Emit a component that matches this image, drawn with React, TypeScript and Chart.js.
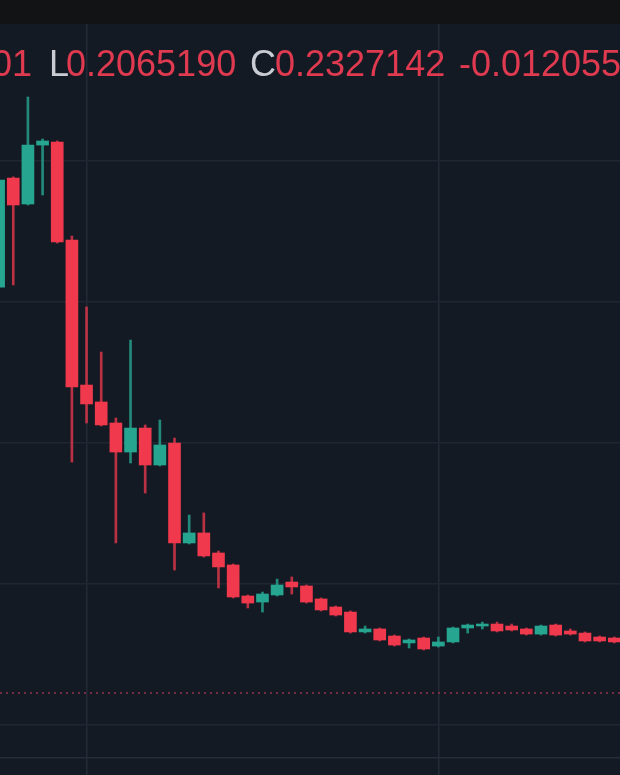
import React, { useEffect, useRef } from "react";
import { Chart, registerables } from "chart.js";

Chart.register(...registerables);

// Candle OHLC values (price units)
const opens = [
  0.5106, 0.5879, 0.5695, 0.6113, 0.6135, 0.544, 0.4411, 0.4291, 0.4142, 0.3936,
  0.4106, 0.3844, 0.4, 0.3291, 0.3362, 0.322, 0.3135, 0.2915, 0.2872, 0.2922,
  0.3014, 0.2986, 0.2894, 0.2837, 0.2801, 0.266, 0.2681, 0.2631, 0.2582, 0.2617,
  0.256, 0.2589, 0.2688, 0.2702, 0.2716, 0.2702, 0.2681, 0.2645, 0.2709, 0.2667,
  0.2652, 0.2624, 0.2617,
];
const highs = [
  0.6199, 0.5887, 0.6454, 0.6156, 0.6142, 0.5468, 0.4965, 0.4645, 0.4177, 0.473,
  0.4128, 0.4163, 0.4035, 0.3489, 0.3504, 0.3234, 0.3142, 0.2922, 0.2943, 0.3035,
  0.305, 0.2993, 0.2901, 0.2844, 0.2809, 0.2702, 0.2688, 0.2638, 0.261, 0.2624,
  0.2624, 0.2695, 0.2716, 0.273, 0.273, 0.2716, 0.2688, 0.2709, 0.2716, 0.2681,
  0.266, 0.2631, 0.2624,
];
const lows = [
  0.5085, 0.5121, 0.5688, 0.5759, 0.5418, 0.3865, 0.4142, 0.4121, 0.3291, 0.3858,
  0.3645, 0.3837, 0.3099, 0.3284, 0.3191, 0.2972, 0.2901, 0.283, 0.2801, 0.2915,
  0.2929, 0.2865, 0.2809, 0.2773, 0.2652, 0.2652, 0.2596, 0.256, 0.2546, 0.2532,
  0.2553, 0.2582, 0.2652, 0.2681, 0.266, 0.2667, 0.2638, 0.2638, 0.2631, 0.2638,
  0.2589, 0.2589, 0.2582,
];
const closes = [
  0.5865, 0.5688, 0.6113, 0.6142, 0.5426, 0.4397, 0.4277, 0.4128, 0.3936, 0.4106,
  0.3844, 0.3986, 0.3291, 0.3362, 0.3199, 0.3121, 0.2908, 0.2865, 0.2929, 0.2993,
  0.2979, 0.2872, 0.2816, 0.278, 0.266, 0.2681, 0.2603, 0.2567, 0.2603, 0.2539,
  0.2589, 0.2688, 0.2709, 0.2716, 0.2667, 0.2674, 0.2645, 0.2702, 0.2638, 0.2645,
  0.2596, 0.2596, 0.2589,
];

const priceGrid = [0.2, 0.3, 0.4, 0.5, 0.6, 0.7];
const bottomRule = 0.1766;
const candleGrid = [6, 30];
const lastPriceLine = 0.2227;

const headerParts = [
  { text: "01", color: "#e03a50", left: -8 },
  { text: "L", color: "#c9cdd3", left: 49 },
  { text: "0.2065190", color: "#e03a50", left: 66 },
  { text: "C", color: "#c9cdd3", left: 250 },
  { text: "0.2327142", color: "#e03a50", left: 275 },
  { text: "-0.0120559", color: "#e03a50", left: 459 },
];

export default function App() {
  const ref = useRef<HTMLCanvasElement>(null);

  useEffect(() => {
    const up = "#26a690";
    const down = "#f0394d";
    const upWick = "rgba(38,166,144,0.8)";
    const downWick = "rgba(240,57,77,0.75)";
    const idx = opens.map((_, i) => i);
    const isUp = idx.map((i) => closes[i] >= opens[i]);
    const xMin = 0.0955;
    const xMax = 42.39;
    const yMin = 0.16454;
    const yMax = 0.71418;

    const chart = new Chart(ref.current as HTMLCanvasElement, {
      type: "bar",
      data: {
        datasets: [
          {
            type: "bar",
            label: "body",
            data: idx.map((i) => ({ x: i, y: [opens[i], closes[i]] })) as any,
            backgroundColor: isUp.map((u) => (u ? up : down)),
            borderWidth: 0,
            barThickness: 12,
            minBarLength: 2,
            grouped: false,
            order: 0,
          } as any,
          {
            type: "bar",
            label: "wick",
            data: idx.map((i) => ({ x: i, y: [lows[i], highs[i]] })) as any,
            backgroundColor: isUp.map((u) => (u ? upWick : downWick)),
            borderWidth: 0,
            barThickness: 2,
            minBarLength: 1,
            grouped: false,
            order: 1,
          } as any,
          {
            type: "line",
            label: "last",
            data: [
              { x: xMin, y: lastPriceLine },
              { x: xMax, y: lastPriceLine },
            ],
            borderColor: "rgba(150,50,75,0.75)",
            borderWidth: 2,
            borderDash: [2, 4],
            pointRadius: 0,
            order: 2,
          } as any,
        ],
      },
      options: {
        animation: false,
        responsive: false,
        maintainAspectRatio: false,
        layout: { padding: 0 },
        plugins: { legend: { display: false }, tooltip: { enabled: false } },
        scales: {
          x: {
            type: "linear",
            min: xMin,
            max: xMax,
            offset: false,
            ticks: { display: false },
            grid: { color: "#222a36", lineWidth: 1.5, drawTicks: false, offset: false },
            border: { display: false },
            afterBuildTicks: (s: any) => {
              s.ticks = candleGrid.map((v) => ({ value: v }));
            },
          },
          y: {
            type: "linear",
            min: yMin,
            max: yMax,
            ticks: { display: false },
            grid: {
              drawTicks: false,
              lineWidth: 1.5,
              color: (c: any) => (c.tick && c.tick.value === bottomRule ? "#262d39" : "#1f2632"),
            },
            border: { display: false },
            afterBuildTicks: (s: any) => {
              s.ticks = [...priceGrid, bottomRule].map((v) => ({ value: v }));
            },
          },
        },
      } as any,
    });
    return () => chart.destroy();
  }, []);

  return (
    <div
      style={{
        position: "fixed",
        left: 0,
        top: 0,
        width: 620,
        height: 775,
        background: "#141a24",
        overflow: "hidden",
      }}
    >
      <canvas
        ref={ref}
        width={620}
        height={775}
        style={{ position: "absolute", left: 0, top: 0, display: "block" }}
      />
      <div
        style={{
          position: "absolute",
          left: 0,
          top: 0,
          width: 620,
          height: 24,
          background: "#121315",
        }}
      />
      {headerParts.map((p, i) => (
        <span
          key={i}
          style={{
            position: "absolute",
            top: 46,
            left: p.left,
            color: p.color,
            fontFamily: "'Liberation Sans', Arial, sans-serif",
            fontSize: 36,
            lineHeight: "36px",
            whiteSpace: "pre",
          }}
        >
          {p.text}
        </span>
      ))}
    </div>
  );
}
